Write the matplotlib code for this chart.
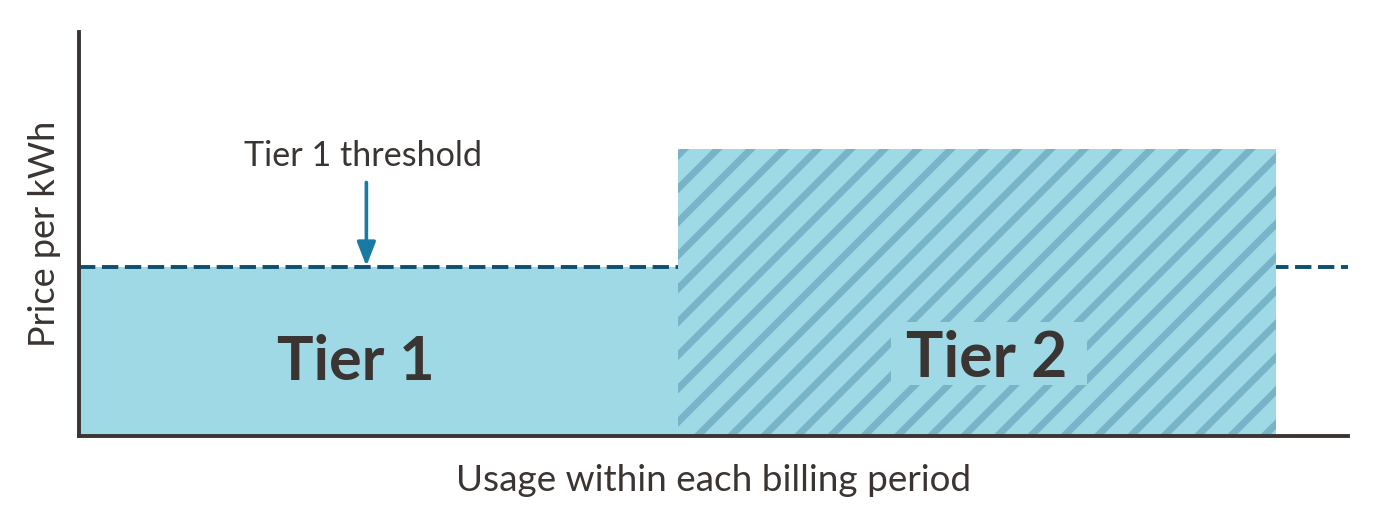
import matplotlib
matplotlib.use("Agg")
import matplotlib.pyplot as plt
from matplotlib.patches import Rectangle

# tier data (usage fraction on x, relative price on y)
tier_labels = ["Tier 1", "Tier 2"]
tier_start = [0.0, 1.0]
tier_width = [1.0, 1.0]
tier_price = [1.0, 1.7]
threshold_price = 1.0
threshold_label = "Tier 1 threshold"
x_max = 2.12
y_max = 2.39

FILL = "#a0d9e6"
HATCH = "#78b4c8"
DASH = "#0e4f6e"
ARROW = "#1a7aa6"
TEXT = "#3a3532"

plt.rcParams["font.family"] = ["Lato", "DejaVu Sans"]
plt.rcParams["hatch.linewidth"] = 2.5
plt.rcParams["hatch.color"] = HATCH

fig = plt.figure(figsize=(6.875, 2.605), dpi=200)
ax = fig.add_axes([0.0575, 0.1631, 0.9229, 0.7755])

# bars: first plain, second hatched
ax.bar(tier_start[0], tier_price[0], width=tier_width[0], align="edge",
       color=FILL, edgecolor="none", linewidth=0, zorder=1)
ax.bar(tier_start[1], tier_price[1], width=tier_width[1], align="edge",
       color=FILL, edgecolor=HATCH, hatch="//", linewidth=0, zorder=3)

# threshold dashed line
ax.axhline(threshold_price, color=DASH, lw=1.4, dashes=(4.2, 1.7), zorder=2)

# arrow + label
arrow_x = 0.48
ax.annotate("", xy=(arrow_x, threshold_price + 0.005),
            xytext=(arrow_x, threshold_price + 0.5),
            arrowprops=dict(arrowstyle="-|>,head_length=0.9,head_width=0.35",
                            color=ARROW, lw=1.3, mutation_scale=8,
                            shrinkA=0, shrinkB=0), zorder=4)
ax.text(arrow_x - 0.005, threshold_price + 0.598, threshold_label,
        ha="center", va="baseline", fontsize=12.3, color=TEXT)

# tier labels
ax.text(tier_start[0] + 0.462, 0.44, tier_labels[0], ha="center", va="center",
        fontsize=22, fontweight="bold", color=TEXT, zorder=5)
ax.add_patch(Rectangle((1.357, 0.302), 0.327, 0.373, facecolor=FILL,
                       edgecolor="none", zorder=4))
ax.text(tier_start[1] + 0.516, 0.457, tier_labels[1], ha="center", va="center",
        fontsize=22.5, fontweight="bold", color=TEXT, zorder=5)

ax.set_xlim(0, x_max)
ax.set_ylim(0, y_max)
ax.set_xticks([])
ax.set_yticks([])
for side in ["top", "right"]:
    ax.spines[side].set_visible(False)
for side in ["left", "bottom"]:
    ax.spines[side].set_color(TEXT)
    ax.spines[side].set_linewidth(1.4)
    ax.spines[side].set_zorder(6)

ax.set_xlabel("Usage within each billing period", fontsize=13.3, color=TEXT, labelpad=10)
ax.set_ylabel("Price per kWh", fontsize=13, color=TEXT, labelpad=6.5)

fig.savefig("out.png", dpi=200)
